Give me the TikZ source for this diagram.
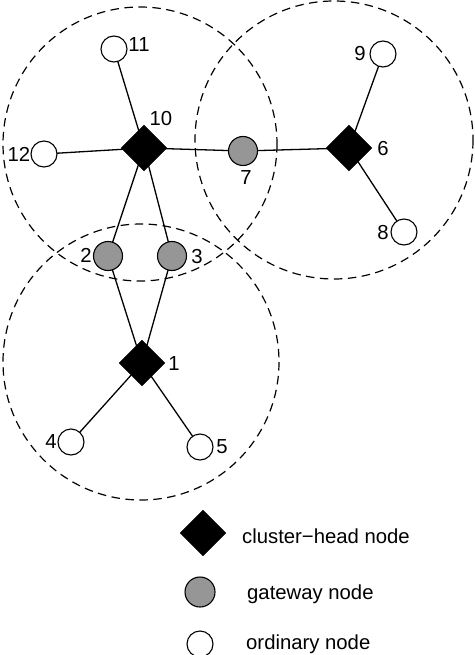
\documentclass[tikz,border=0pt]{standalone}
\usepackage{fontspec}
\setmainfont{Liberation Sans}
\usetikzlibrary{shapes.geometric}
\definecolor{gwgray}{RGB}{150,150,150}
\tikzset{
  headnode/.style={diamond,fill=black,draw=black,inner sep=0pt,minimum width=46pt,minimum height=46pt},
  gatenode/.style={circle,fill=gwgray,draw=black,line width=1.1pt,inner sep=0pt,minimum size=29pt},
  ordinnode/.style={circle,fill=white,draw=black,line width=1.1pt,inner sep=0pt,minimum size=26pt},
  numlbl/.style={inner sep=0pt,font=\fontsize{20.3}{24}\selectfont},
  rangecirc/.style={draw=black,dash pattern=on 8.5pt off 5.5pt,line width=1.2pt},
  linkline/.style={draw=black,line width=1.3pt}
}
\begin{document}
\begin{tikzpicture}[x=1pt,y=-1pt]
\useasboundingbox (0,0) rectangle (474,655);
% range circles
\draw[rangecirc] (140,144) circle (137);
\draw[rangecirc] (334,140) circle (139);
\draw[rangecirc] (141,362) circle (138);
% node positions
\coordinate (c10) at (144,148);
\coordinate (c11) at (114,49);
\coordinate (c12) at (44,154);
\coordinate (c7) at (243,151);
\coordinate (c6) at (349,148);
\coordinate (c9) at (383,54);
\coordinate (c8) at (404,232);
\coordinate (c2) at (108,256);
\coordinate (c3) at (172,256);
\coordinate (c1) at (142,363);
\coordinate (c4) at (71,442);
\coordinate (c5) at (200,447);
% links
\draw[linkline] (c10) -- (c11);
\draw[linkline] (c10) -- (c12);
\draw[linkline] (c10) -- (c7);
\draw[linkline] (c7) -- (c6);
\draw[linkline] (c6) -- (c9);
\draw[linkline] (c6) -- (c8);
\draw[linkline] (c10) -- (c2);
\draw[linkline] (c10) -- (c3);
\draw[linkline] (c2) -- (c1);
\draw[linkline] (c3) -- (c1);
\draw[linkline] (c1) -- (c4);
\draw[linkline] (c1) -- (c5);
% nodes
\node[headnode] (n10) at (c10) {};
\node[headnode] (n6) at (c6) {};
\node[headnode] (n1) at (c1) {};
\node[gatenode] (n7) at (c7) {};
\node[gatenode] (n2) at (c2) {};
\node[gatenode] (n3) at (c3) {};
\node[ordinnode] (n11) at (c11) {};
\node[ordinnode] (n12) at (c12) {};
\node[ordinnode] (n9) at (c9) {};
\node[ordinnode] (n8) at (c8) {};
\node[ordinnode] (n4) at (c4) {};
\node[ordinnode] (n5) at (c5) {};
% labels
\node[numlbl] (l10) at (161,119) {10};
\node[numlbl] (l11) at (139,45) {11};
\node[numlbl] (l12) at (19,154) {12};
\node[numlbl] (l7) at (246,178) {7};
\node[numlbl] (l6) at (383,149) {6};
\node[numlbl] (l9) at (360,54) {9};
\node[numlbl] (l8) at (383,233) {8};
\node[numlbl] (l2) at (86,255) {2};
\node[numlbl] (l3) at (197,257) {3};
\node[numlbl] (l1) at (174,364) {1};
\node[numlbl] (l4) at (51,442) {4};
\node[numlbl] (l5) at (222,447) {5};
% legend
\node[headnode] (k1) at (203,533) {};
\node[gatenode,minimum size=30pt] (k2) at (200,592) {};
\node[ordinnode] (k3) at (200,644) {};
\node[numlbl,anchor=base west] (t1) at (242,543) {cluster−head node};
\node[numlbl,anchor=base west] (t2) at (247,599) {gateway node};
\node[numlbl,anchor=base west] (t3) at (246,649) {ordinary node};
\end{tikzpicture}
\end{document}
